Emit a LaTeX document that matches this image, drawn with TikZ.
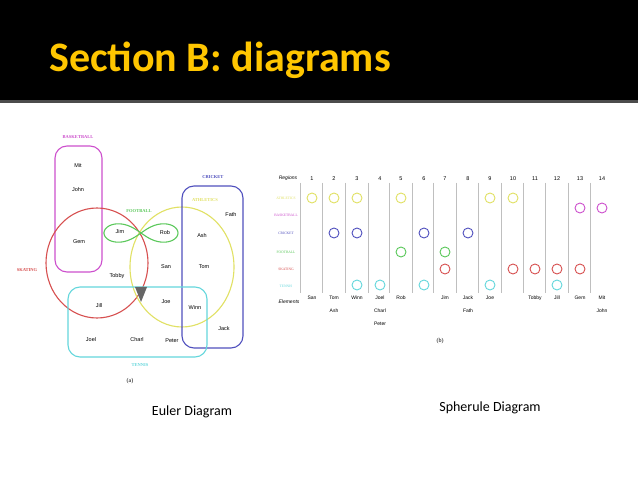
\documentclass[tikz,border=0pt]{standalone}
\usepackage{fontspec}
\setmainfont{Liberation Serif}
\newfontfamily\carfont{Carlito}
\newfontfamily\ari{Liberation Sans}
\begin{document}
\begin{tikzpicture}[x=1pt,y=-1pt,
  nm/.style={font=\ari\fontsize{5.5}{6}\selectfont, inner sep=0pt},
  lb/.style={font=\fontsize{4.5}{5}\selectfont\bfseries, inner sep=0pt},
  sl/.style={font=\fontsize{3.6}{4}\selectfont, inner sep=0pt},
  rc/.style={line width=1.1pt},
  sp/.style={line width=0.9pt}]
\useasboundingbox (0,0) rectangle (638,478);
\fill[white] (0,0) rectangle (638,478);
\fill[black] (0,0) rectangle (638,100);
\fill[black!70] (0,100) rectangle (638,103);
\node[anchor=west, inner sep=0pt, text=orange!45!yellow, font=\carfont\bfseries\fontsize{42}{46}\selectfont] (title) at (49,60) {Section B: diagrams};
% Euler diagram
\definecolor{mag}{RGB}{205,80,205}
\definecolor{skr}{RGB}{215,80,80}
\definecolor{yel}{RGB}{225,225,100}
\definecolor{blu}{RGB}{80,80,190}
\definecolor{cya}{RGB}{100,215,220}
\definecolor{grn}{RGB}{90,200,90}
\draw[rc,mag,rounded corners=12pt] (55,146) rectangle (102,272);
\draw[rc,skr] (97,263) ellipse (51 and 55);
\draw[rc,yel] (182,267) ellipse (52 and 60);
\draw[rc,blu,rounded corners=12pt] (182,186) rectangle (243,348);
\draw[rc,cya,rounded corners=12pt] (68,287) rectangle (207,357);
\draw[rc,grn,smooth] plot[domain=0:360,samples=120,variable=\t]
  ({141+37*cos(\t)/(1+sin(\t)^2)},{233+26*sin(\t)*cos(\t)/(1+sin(\t)^2)});
\fill[gray!80!black] (135,287) -- (147,287) -- (141,302) -- cycle;
\node[lb,mag] (lbb) at (78,137) {BASKETBALL};
\node[lb,skr] (lsk) at (27,270) {SKATING};
\node[lb,yel] (lat) at (205,200) {ATHLETICS};
\node[lb,blu] (lcr) at (213,177) {CRICKET};
\node[lb,cya] (lte) at (140,365) {TENNIS};
\node[lb,grn] (lfo) at (139,211) {FOOTBALL};
\foreach \n/\x/\y in {Mit/78/166,John/78/190,Gem/79/242,Jim/120/232,Rob/165/233,Ash/202/236,Fath/231/215,San/166/267,Tom/204/267,Tobby/117/276,Joe/166/302,Winn/195/308,Jill/99/306,Jack/224/329,Joel/91/340,Charl/137/340,Peter/172/341}
  \node[nm] (e\n) at (\x,\y) {\n};
\node[font=\fontsize{6}{7}\selectfont] (capa) at (130,381) {(a)};
% Spherule diagram
\node[nm,font=\ari\itshape\fontsize{5}{6}\selectfont] (reg) at (288,178) {Regions};
\node[nm,font=\ari\itshape\fontsize{5}{6}\selectfont] (ele) at (289,302) {Elements};
\foreach \i/\x in {1/312,2/334,3/357,4/380,5/401,6/424,7/445,8/468,9/490,10/513,11/535,12/557,13/580,14/602}{
  \node[nm] (r\i) at (\x,179) {\i};
  \draw[gray!50,line width=0.5pt] (\x-11.5,183) -- (\x-11.5,293);
}
\node[sl,yel] (sat) at (286,198) {ATHLETICS};
\node[sl,mag] (sbb) at (286,215) {BASKETBALL};
\node[sl,blu] (scr) at (286,233) {CRICKET};
\node[sl,grn] (sfo) at (286,252) {FOOTBALL};
\node[sl,skr] (ssk) at (286,269) {SKATING};
\node[sl,cya] (ste) at (286,286) {TENNIS};
\foreach \x in {312,334,357,401,490,513} \draw[sp,yel] (\x,198) circle (5);
\foreach \x in {580,602} \draw[sp,mag] (\x,208) circle (5);
\foreach \x in {334,357,424,468} \draw[sp,blu] (\x,233) circle (5);
\foreach \x in {401,445} \draw[sp,grn] (\x,252) circle (5);
\foreach \x in {445,513,535,557,580} \draw[sp,skr] (\x,269) circle (5);
\foreach \x in {357,380,424,490,557} \draw[sp,cya] (\x,285) circle (5);
\foreach \n/\x/\y in {San/312/298,Tom/334/298,Winn/357/298,Joel/380/298,Rob/401/298,Jim/445/298,Jack/468/298,Joe/490/298,Tobby/535/298,Jill/557/298,Gem/580/298,Mit/602/298,Ash/334/311,Charl/380/311,Fath/468/311,John/602/311,Peter/380/324}
  \node[nm,font=\ari\fontsize{5}{6}\selectfont] (s\n) at (\x,\y) {\n};
\node[font=\fontsize{6}{7}\selectfont] (capb) at (440,341) {(b)};
\node[font=\carfont\fontsize{14}{16}\selectfont] (c1) at (192,412) {Euler Diagram};
\node[font=\carfont\fontsize{14}{16}\selectfont] (c2) at (490,408) {Spherule Diagram};
\end{tikzpicture}
\end{document}
